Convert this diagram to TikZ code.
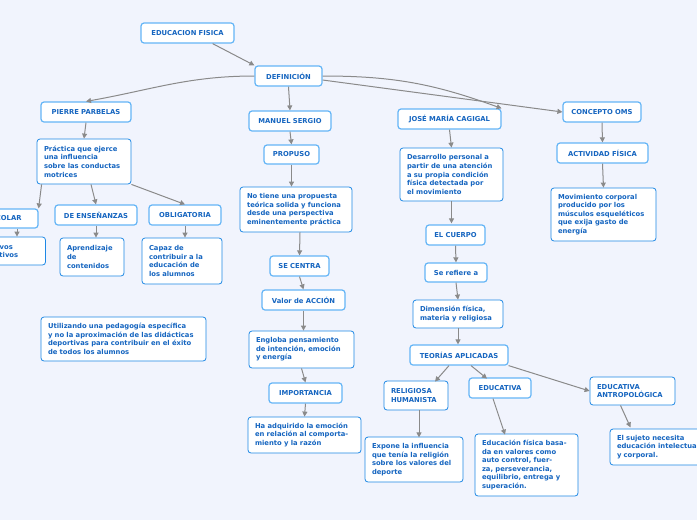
\documentclass[tikz,border=0pt]{standalone}
\usepackage{fontspec}
\setmainfont{DejaVu Sans}
\usetikzlibrary{arrows.meta}
\definecolor{bg}{HTML}{F1F4FD}
\definecolor{tx}{HTML}{1565C0}
\definecolor{bd}{HTML}{1E88E5}
\definecolor{hb}{HTML}{64B5F6}
\definecolor{ar}{HTML}{8A8A8A}
\tikzset{
 base/.style={fill=white,rounded corners=3pt,text=tx,font=\fontsize{6.8}{8.6}\selectfont\bfseries,inner ysep=2pt,inner xsep=7pt},
 hdr/.style={base,draw=hb,line width=1.2pt,align=center},
 txt/.style={base,draw=bd,line width=0.8pt,align=left},
 con/.style={draw=ar,line width=1pt,-{Triangle[length=5pt,width=5pt]}}
}
\newcommand{\bx}[8]{% style,name,x1,y1,x2,y2,textwidth,text
 \node[#1,minimum width=#5-#3,minimum height=#6-#4,text width=#7-10] (#2) at ({(#3+#5)/2},{(#4+#6)/2}) {#8};}
\begin{document}
\begin{tikzpicture}[x=1pt,y=-1pt]
\fill[bg] (0,0) rectangle (697,520);
\useasboundingbox (0,0) rectangle (697,520);
\bx{hdr}{ef}{141}{23}{234}{43}{88}{EDUCACION FISICA}
\bx{hdr}{def}{255}{66}{322}{86}{62}{DEFINICIÓN}
\bx{hdr}{pp}{41}{102}{131}{122}{85}{PIERRE PARBELAS}
\bx{hdr}{ms}{249}{111}{331}{131}{77}{MANUEL SERGIO}
\bx{hdr}{jm}{398}{109}{501}{129}{98}{JOSÉ MARÍA CAGIGAL}
\bx{hdr}{oms}{563}{102}{641}{122}{73}{CONCEPTO OMS}
\bx{txt}{pr}{37}{139}{131}{184}{90}{Práctica que ejerce\\una influencia\\sobre las conductas\\motrices}
\bx{hdr}{esc}{-30}{209}{38}{228}{63}{ESCOLAR}
\bx{hdr}{den}{55}{205}{137}{225}{77}{DE ENSEÑANZAS}
\bx{hdr}{obl}{149}{205}{221}{225}{67}{OBLIGATORIA}
\bx{txt}{obj}{-30}{237}{45}{265}{72}{Objetivos\\educativos}
\bx{txt}{apr}{60}{238}{124}{276}{60}{Aprendizaje\\de\\contenidos}
\bx{txt}{cap}{142}{238}{222}{284}{76}{Capaz de\\contribuir a la\\educación de\\los alumnos}
\bx{txt}{uti}{41}{317}{206}{361}{161}{Utilizando una pedagogía específica\\y no la aproximación de las didácticas\\deportivas para contribuir en el éxito\\de todos los alumnos}
\bx{hdr}{pro}{264}{145}{319}{164}{50}{PROPUSO}
\bx{txt}{not}{240}{187}{352}{232}{108}{No tiene una propuesta\\teórica solida y funciona\\desde una perspectiva\\eminentemente práctica}
\bx{hdr}{sec}{270}{256}{329}{276}{54}{SE CENTRA}
\bx{hdr}{val}{262}{290}{345}{310}{78}{Valor de ACCIÓN}
\bx{txt}{eng}{249}{331}{354}{368}{101}{Engloba pensamiento\\de intención, emoción\\y energía}
\bx{hdr}{imp}{269}{383}{342}{403}{68}{IMPORTANCIA}
\bx{txt}{ha}{248}{417}{361}{453}{109}{Ha adquirido la emoción\\en relación al comporta-\\miento y la razón}
\bx{txt}{des}{400}{148}{503}{201}{99}{Desarrollo personal a\\partir de una atención\\a su propia condición\\física detectada por\\el movimiento}
\bx{hdr}{cue}{426}{225}{485}{245}{54}{EL CUERPO}
\bx{hdr}{ser}{425}{263}{487}{282}{57}{Se refiere a}
\bx{txt}{dim}{413}{300}{503}{328}{86}{Dimensión física,\\materia y religiosa}
\bx{hdr}{teo}{410}{345}{508}{365}{93}{TEORÍAS APLICADAS}
\bx{txt}{rel}{384}{381}{448}{410}{60}{RELIGIOSA\\HUMANISTA}
\bx{hdr}{edu}{469}{378}{531}{398}{57}{EDUCATIVA}
\bx{txt}{ant}{590}{377}{675}{405}{81}{EDUCATIVA\\ANTROPOLÓGICA}
\bx{txt}{exp}{365}{437}{463}{482}{94}{Expone la influencia\\que tenía la religión\\sobre los valores del\\deporte}
\bx{txt}{efb}{475}{434}{578}{496}{99}{Educación física basa-\\da en valores como\\auto control, fuer-\\za, perseverancia,\\equilibrio, entrega y\\superación.}
\bx{txt}{suj}{610}{429}{720}{465}{106}{El sujeto necesita\\educación intelectual\\y corporal.}
\bx{hdr}{act}{557}{143}{648}{163}{86}{ACTIVIDAD FÍSICA}
\bx{txt}{mov}{551}{188}{656}{241}{101}{Movimiento corporal\\producido por los\\músculos esqueléticos\\que exija gasto de\\energía}
% connectors
\draw[con] (ef.south east) ++(-22,0) -- (def.north west);
\draw[con] (def.west) to[out=180,in=10] (pp.north);
\draw[con] (def.south) -- (ms.north);
\draw[con] (def.east) to[out=0,in=160] (jm.north east);
\draw[con] (def.east) ++(0,4) -- (oms.west);
\draw[con] (pp.south) -- (pr.north);
\draw[con] (pr.south west) ++(5,0) -- (esc.north east);
\draw[con] (pr.south) ++(7,0) -- (den.north);
\draw[con] (pr.south east) -- (obl.north);
\draw[con] (esc.south) ++(13,0) -- ++(0,8);
\draw[con] (den.south) -- ++(0,12);
\draw[con] (obl.south) -- ++(0,12);
\draw[con] (ms.south) -- (pro.north);
\draw[con] (pro.south) -- ++(0,22);
\draw[con] (not.south) ++(4,0) -- (sec.north);
\draw[con] (sec.south) -- (val.north);
\draw[con] (val.south) -- ++(0,20);
\draw[con] (eng.south) -- (imp.north);
\draw[con] (imp.south) -- (ha.north);
\draw[con] (jm.south) -- (des.north);
\draw[con] (des.south) -- ++(0,22);
\draw[con] (cue.south) -- (ser.north);
\draw[con] (ser.south) -- (dim.north);
\draw[con] (dim.south) -- ++(0,16);
\draw[con] (teo.south) ++(-10,0) -- ++(-14,16);
\draw[con] (teo.south) ++(12,0) -- ++(16,13);
\draw[con] (teo.south east) -- (ant.west);
\draw[con] (rel.south) ++(3,0) -- ++(0,27);
\draw[con] (edu.south) ++(-7,0) -- ++(12,36);
\draw[con] (ant.south) ++(-12,0) -- ++(10,22);
\draw[con] (oms.south) -- (act.north);
\draw[con] (act.south) -- (mov.north);
\end{tikzpicture}
\end{document}
